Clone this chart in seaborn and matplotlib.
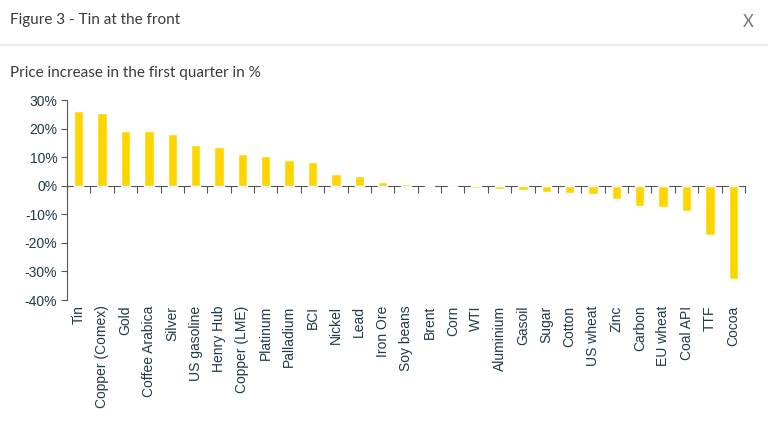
import numpy as np
import matplotlib
matplotlib.use("Agg")
import matplotlib.pyplot as plt
import seaborn as sns
from matplotlib.lines import Line2D
from matplotlib.ticker import FuncFormatter

commodities = [
    "Tin", "Copper (Comex)", "Gold", "Coffee Arabica", "Silver", "US gasoline",
    "Henry Hub", "Copper (LME)", "Platinum", "Palladium", "BCI", "Nickel",
    "Lead", "Iron Ore", "Soy beans", "Brent", "Corn", "WTI", "Aluminium",
    "Gasoil", "Sugar", "Cotton", "US wheat", "Zinc", "Carbon", "EU wheat",
    "Coal API", "TTF", "Cocoa",
]
change_pct = [
    26.3, 25.3, 19.1, 19.0, 18.2, 14.4,
    13.7, 11.0, 10.4, 9.0, 8.2, 4.2,
    3.4, 1.3, 0.7, 0.4, -0.5, -0.7, -1.0,
    -1.6, -2.3, -2.7, -3.0, -4.7, -7.2, -7.6,
    -9.0, -17.1, -32.6,
]
y_ticks = [30, 20, 10, 0, -10, -20, -30, -40]

bar_color = "#FFD500"
tick_color = "#1e3a46"
axis_color = "#555555"

sns.set_style("white")
plt.rcParams["font.family"] = ["Liberation Sans", "DejaVu Sans"]

fig = plt.figure(figsize=(7.68, 4.33), dpi=100)
ax = fig.add_axes([67 / 768, 1 - 300 / 433, (745 - 67) / 768, 200 / 433])

sns.barplot(x=commodities, y=change_pct, color=bar_color, saturation=1,
            width=0.4, ax=ax, zorder=3)

ax.set_ylim(-40, 30)
ax.set_xlim(-0.5, len(commodities) - 0.5)
ax.set_yticks(y_ticks)
ax.yaxis.set_major_formatter(FuncFormatter(lambda v, _: f"{v:.0f}%"))
ax.tick_params(axis="y", direction="out", length=4, width=0.8,
               color=axis_color, labelcolor=tick_color, labelsize=10, pad=3, left=True)
ax.tick_params(axis="x", length=0, labelcolor=tick_color, labelsize=10,
               labelrotation=90, pad=4)

for side in ["top", "right", "bottom"]:
    ax.spines[side].set_visible(False)
ax.spines["left"].set_color(axis_color)
ax.spines["left"].set_linewidth(0.8)

# zero line with category-boundary ticks
zero_ax = ax.secondary_xaxis(0, transform=ax.transData)
zero_ax.set_xticks(np.arange(-0.5, len(commodities), 1.0))
zero_ax.set_xticklabels([])
zero_ax.tick_params(direction="out", length=5, width=0.8, color=axis_color)
zero_ax.spines["bottom"].set_color(axis_color)
zero_ax.spines["bottom"].set_linewidth(0.8)

# header
fig.text(10 / 768, 1 - 20 / 433, "Figure 3 - Tin at the front", fontsize=11,
         color="#3a3a3a", va="center", ha="left", family=["Lato", "DejaVu Sans"])
fig.text(748 / 768, 1 - 22 / 433, "X", fontsize=12, color="#777777",
         va="center", ha="center", family=["Lato", "DejaVu Sans"])
fig.add_artist(Line2D([0, 1], [1 - 45 / 433, 1 - 45 / 433], color="#ebebeb",
                      linewidth=1.5, transform=fig.transFigure))
fig.text(10 / 768, 1 - 73 / 433, "Price increase in the first quarter in %",
         fontsize=11, color="#3a3a3a", va="center", ha="left",
         family=["Lato", "DejaVu Sans"])

fig.savefig("out.png", dpi=100)
